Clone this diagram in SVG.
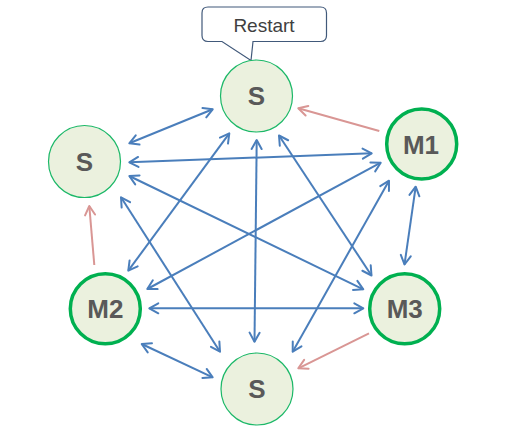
<svg xmlns="http://www.w3.org/2000/svg" width="521" height="448" viewBox="0 0 521 448">
<style>
.bg{fill:#ffffff}
.s circle{fill:#ebf1de;stroke:#1cb868;stroke-width:1.2}
.m circle{fill:#ebf1de;stroke:#00b050;stroke-width:3.5}
.lbl{font-family:"Liberation Sans",Arial,sans-serif;font-weight:bold;fill:#595959;text-anchor:middle}
.s .lbl{font-size:26px}
.m .lbl{font-size:26px}
.blue{stroke:#4a7ebb;stroke-width:2;fill:none;marker-start:url(#ab);marker-end:url(#ab)}
.red{stroke:#d99694;stroke-width:2;fill:none;marker-end:url(#ar)}
.call{fill:#ffffff;stroke:#41597a;stroke-width:1.2}
.ctext{font-family:"Liberation Sans",Arial,sans-serif;font-size:19px;fill:#404040;text-anchor:middle}
</style>
<defs>
<marker id="ab" markerUnits="userSpaceOnUse" viewBox="-12 -7 14 14" refX="0" refY="0" markerWidth="14" markerHeight="14" orient="auto-start-reverse">
<path d="M-9,-5 L0,0 L-9,5" fill="none" stroke="#4a7ebb" stroke-width="2" stroke-linecap="round" stroke-linejoin="round"/>
</marker>
<marker id="ar" markerUnits="userSpaceOnUse" viewBox="-12 -7 14 14" refX="0" refY="0" markerWidth="14" markerHeight="14" orient="auto-start-reverse">
<path d="M-9,-5 L0,0 L-9,5" fill="none" stroke="#d99694" stroke-width="2" stroke-linecap="round" stroke-linejoin="round"/>
</marker>
</defs>
<rect class="bg" x="0" y="0" width="521" height="448"/>
<g id="connectors">
<line class="blue" x1="129.3" y1="143.3" x2="212.7" y2="109.3"/>
<line class="blue" x1="129.3" y1="162.3" x2="371.7" y2="153.3"/>
<line class="blue" x1="129.3" y1="176" x2="363.3" y2="289.3"/>
<line class="blue" x1="121" y1="197.3" x2="220" y2="351.7"/>
<line class="blue" x1="229.3" y1="133.3" x2="128.3" y2="270.7"/>
<line class="blue" x1="256.7" y1="140" x2="254.5" y2="341.7"/>
<line class="blue" x1="279" y1="135.5" x2="371.5" y2="275.5"/>
<line class="blue" x1="380.7" y1="162.7" x2="147.3" y2="289"/>
<line class="blue" x1="389" y1="180.7" x2="292.7" y2="351.7"/>
<line class="blue" x1="415.7" y1="186.7" x2="404.5" y2="264.5"/>
<line class="blue" x1="149.3" y1="308.3" x2="363.3" y2="308.3"/>
<line class="blue" x1="141.7" y1="344" x2="212.7" y2="377.3"/>
<line class="red" x1="379.3" y1="131" x2="298.3" y2="108.3"/>
<line class="red" x1="94.3" y1="265" x2="89.3" y2="206"/>
<line class="red" x1="369" y1="333.3" x2="298.3" y2="368.3"/>
</g>
<g id="restart">
<path class="call" d="M208,7 H320.5 Q326.5,7 326.5,13 V35.5 Q326.5,41.5 320.5,41.5 H253 L251,60.5 L222,41.5 H208 Q202,41.5 202,35.5 V13 Q202,7 208,7 Z"/>
<text class="ctext" x="264" y="31.5">Restart</text>
</g>
<g id="s-top" class="s">
<circle cx="256.5" cy="96" r="36"/>
<text class="lbl" x="256.5" y="105">S</text>
</g>
<g id="s-left" class="s">
<circle cx="84.5" cy="161.5" r="36"/>
<text class="lbl" x="84.5" y="170.5">S</text>
</g>
<g id="m1" class="m">
<circle cx="421.7" cy="144" r="35"/>
<text class="lbl" x="421" y="153.5">M1</text>
</g>
<g id="m2" class="m">
<circle cx="105.3" cy="308.7" r="35"/>
<text class="lbl" x="105.3" y="318">M2</text>
</g>
<g id="m3" class="m">
<circle cx="404.7" cy="308.7" r="35"/>
<text class="lbl" x="404.7" y="318">M3</text>
</g>
<g id="s-bottom" class="s">
<circle cx="257" cy="389" r="36"/>
<text class="lbl" x="257" y="398">S</text>
</g>
</svg>
